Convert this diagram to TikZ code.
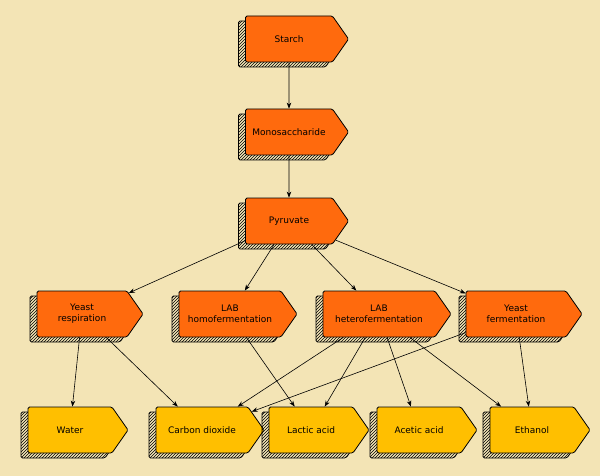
\documentclass[tikz,border=0pt]{standalone}
\usepackage{fontspec}
\setmainfont{DejaVu Sans}
\usetikzlibrary{shapes.symbols,shadows,patterns,arrows.meta}
\definecolor{bg}{HTML}{F3E4B5}
\definecolor{org}{HTML}{FF6A0D}
\definecolor{yel}{HTML}{FFBF00}
\tikzset{
 box/.style={signal, signal to=east, signal pointer angle=110, draw=black, thick, text=black, rounded corners=1.5pt,
   font=\fontsize{9}{11}\selectfont, align=center, minimum height=46pt, inner xsep=3pt,
   general shadow={shadow xshift=-7pt, shadow yshift=-5pt, draw=black, thick, fill=white, pattern=north east lines}},
 ob/.style={box, fill=org},
 yb/.style={box, fill=yel},
 arr/.style={-{Stealth[length=6pt]}, semithick}
}
\begin{document}
\begin{tikzpicture}[x=1pt,y=-1pt]
\fill[bg] (0,0) rectangle (600,476);
\useasboundingbox (0,0) rectangle (600,476);
\node[ob, minimum width=103pt] (s) at (289,39) {Starch};
\node[ob, minimum width=103pt] (m) at (289,132) {Monosaccharide};
\node[ob, minimum width=103pt] (p) at (289,221) {Pyruvate};
\node[ob, minimum width=106pt] (yr) at (82,314) {Yeast\\respiration};
\node[ob, minimum width=118pt] (lh) at (230,314) {LAB\\homofermentation};
\node[ob, minimum width=128pt] (lt) at (379,314) {LAB\\heterofermentation};
\node[ob, minimum width=116pt] (yf) at (516,314) {Yeast\\fermentation};
\node[yb, minimum width=100pt] (w) at (70,430) {Water};
\node[yb, minimum width=108pt] (c) at (202,430) {Carbon dioxide};
\node[yb, minimum width=100pt] (l) at (311,430) {Lactic acid};
\node[yb, minimum width=100pt] (a) at (419,430) {Acetic acid};
\node[yb, minimum width=100pt] (e) at (532,430) {Ethanol};
\draw[arr] (s) -- (m);
\draw[arr] (m) -- (p);
\foreach \t in {yr,lh,lt,yf} \draw[arr] (p) -- (\t);
\draw[arr] (yr) -- (w);
\draw[arr] (yr) -- (c);
\draw[arr] (lh) -- (l);
\draw[arr] (lt) -- (c);
\draw[arr] (lt) -- (l);
\draw[arr] (lt) -- (a);
\draw[arr] (lt) -- (e);
\draw[arr] (yf) -- (c);
\draw[arr] (yf) -- (e);
\end{tikzpicture}
\end{document}
